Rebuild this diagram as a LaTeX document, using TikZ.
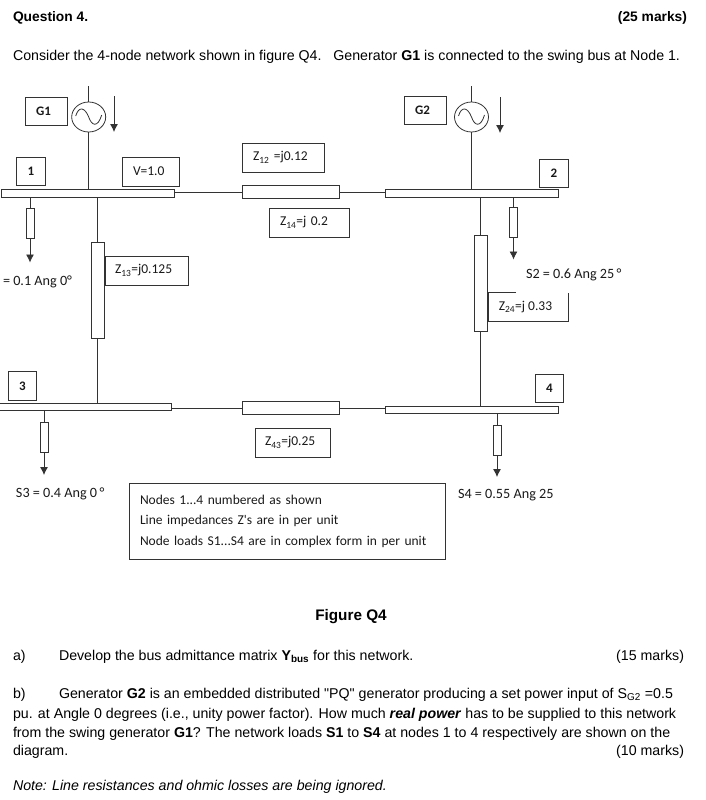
\documentclass[tikz,border=0pt]{standalone}
\usepackage{fontspec}
\setmainfont{Liberation Sans}[Ligatures=TeXOff]
\newfontfamily\diagfont{Carlito}
\usetikzlibrary{positioning,arrows.meta,shapes.geometric}

\tikzset{
  wire/.style={draw=black!80, line width=0.8pt},
  flow/.style={wire, -{Latex[length=8pt,width=8pt]}},
  bus/.style={wire, fill=white, rectangle, inner sep=0pt, outer sep=0pt, minimum height=7.5pt},
  element/.style={wire, fill=white, rectangle, inner sep=0pt, outer sep=0pt},
  load/.style={element, minimum width=8pt, minimum height=30pt},
  gen/.style={wire, ellipse, inner sep=0pt, outer sep=0pt, minimum width=34pt, minimum height=30pt},
  tag/.style={wire, rectangle, inner sep=0pt, outer sep=0pt, align=left, text=black!90, font=\diagfont\fontsize{13.5}{16}\selectfont},
  numtag/.style={tag, align=center, minimum width=28.5pt, minimum height=28.5pt, font=\diagfont\bfseries\fontsize{13}{15}\selectfont},
  lab/.style={inner sep=0pt, outer sep=0pt, text=black!90, font=\diagfont\fontsize{14.2}{16}\selectfont},
  qtext/.style={anchor=base west, inner sep=0pt, outer sep=0pt, font=\fontsize{14.2}{16}\selectfont},
}

\newcommand{\sinewave}[1]{
  \begin{scope}[shift={(#1.center)}]
    \draw[wire] (-13,-1) .. controls (-10,-11) and (-4,-10) .. (0,0) .. controls (3,9) and (9,11) .. (13,-2);
  \end{scope}
}

\begin{document}
\begin{tikzpicture}[x=1pt,y=-1pt]
  \useasboundingbox (0,0) rectangle (705,800);

  \node[qtext, font=\fontsize{13.8}{16}\selectfont] (qhead) at (13,22) {\textbf{Question 4.}};
  \node[qtext, anchor=base east, font=\fontsize{13.8}{16}\selectfont] (qmarks) at (687,22) {\textbf{(25 marks)}};
  \node[qtext] (qintro) at (13,60) {Consider the 4-node network shown in figure Q4.\ \ \ Generator \textbf{G1} is connected to the swing bus at Node 1.};

  \node[bus, minimum width=173pt] (bus1) at (87.5,193.5) {};
  \node[bus, minimum width=173pt] (bus2) at (471.5,193.5) {};
  \node[bus, minimum width=172pt] (bus3) at (85,407) {};
  \node[bus, minimum width=173pt] (bus4) at (471.5,410) {};

  \node[gen] (gen1) at (88.7,117) {};
  \node[gen] (gen2) at (471.5,117) {};
  \sinewave{gen1}
  \sinewave{gen2}
  \coordinate (top1) at (88.7,86);
  \coordinate (top2) at (471.5,86);
  \coordinate (flow1a) at (114,96);
  \coordinate (flow1b) at (114,132);
  \coordinate (flow2a) at (500,97);
  \coordinate (flow2b) at (500,133);
  \draw[wire] (top1) -- (gen1.north);
  \draw[wire] (top2) -- (gen2.north);
  \draw[wire] (gen1.south) -- (gen1.south |- bus1.north);
  \draw[wire] (gen2.south) -- (gen2.south |- bus2.north);
  \draw[flow] (flow1a) -- (flow1b);
  \draw[flow] (flow2a) -- (flow2b);

  \node[numtag, align=left, minimum width=42pt, text width=21pt] (g1tag) at (46.5,111.5) {G1};
  \node[numtag, align=left, minimum width=42.5pt, text width=21pt] (g2tag) at (425.5,110.5) {G2};
  \node[numtag] (n1) at (31,171.5) {1};
  \node[numtag] (n2) at (554,173.5) {2};
  \node[numtag] (n3) at (22.5,386) {3};
  \node[numtag] (n4) at (549.5,388.5) {4};
  \node[tag, minimum width=57pt, minimum height=29pt, text width=35pt] (vtag) at (150.5,171.5) {V=1.0};

  \node[element, minimum width=97pt, minimum height=12.5pt] (z12) at (290.5,192) {};
  \node[element, minimum width=97pt, minimum height=12.5pt] (z43) at (290.5,408) {};
  \node[element, minimum width=13pt, minimum height=96pt] (z13) at (97.5,290) {};
  \node[element, minimum width=13pt, minimum height=96pt] (z24) at (480.5,283) {};

  \draw[wire] (z12.west) -- (z12.west -| bus1.east);
  \draw[wire] (z12.east) -- (z12.east -| bus2.west);
  \draw[wire] (z43.west) -- (z43.west -| bus3.east);
  \draw[wire] (z43.east) -- (z43.east -| bus4.west);
  \draw[wire] (z13.north) -- (z13.north |- bus1.south);
  \draw[wire] (z13.south) -- (z13.south |- bus3.north);
  \draw[wire] (z24.north) -- (z24.north |- bus2.south);
  \draw[wire] (z24.south) -- (z24.south |- bus4.north);

  \node[tag, minimum width=82pt, minimum height=29pt, text width=60pt] (z12tag) at (283,157.5) {Z\textsubscript{12} =j0.12};
  \node[tag, minimum width=80pt, minimum height=29pt, text width=58pt] (z14tag) at (309,222.5) {Z\textsubscript{14}=j 0.2};
  \node[tag, minimum width=83pt, minimum height=29pt, text width=63pt] (z13tag) at (146.5,270.5) {Z\textsubscript{13}=j0.125};
  \node[tag, minimum width=75pt, minimum height=29pt, text width=55pt] (z43tag) at (292.5,442.5) {Z\textsubscript{43}=j0.25};
  \node[lab, font=\diagfont\fontsize{13.5}{16}\selectfont] (z24tag) at (525.5,307) {Z\textsubscript{24}=j 0.33};
  \coordinate (z24a) at (516,292);
  \coordinate (z24b) at (488,292);
  \coordinate (z24c) at (488,321);
  \coordinate (z24d) at (568,321);
  \coordinate (z24e) at (568,293);
  \draw[wire] (z24a) -- (z24b) -- (z24c) -- (z24d) -- (z24e);

  \node[load] (load1) at (30,223.5) {};
  \node[load] (load2) at (513.5,222.5) {};
  \node[load] (load3) at (44,437) {};
  \node[load] (load4) at (497,440) {};
  \coordinate[below=24pt of load1] (tip1);
  \coordinate[below=22pt of load2] (tip2);
  \coordinate[below=23pt of load3] (tip3);
  \coordinate[below=22pt of load4] (tip4);
  \draw[wire] (load1.north) -- (load1.north |- bus1.south);
  \draw[wire] (load2.north) -- (load2.north |- bus2.south);
  \draw[wire] (load3.north) -- (load3.north |- bus3.south);
  \draw[wire] (load4.north) -- (load4.north |- bus4.south);
  \draw[flow] (load1.south) -- (tip1);
  \draw[flow] (load2.south) -- (tip2);
  \draw[flow] (load3.south) -- (tip3);
  \draw[flow] (load4.south) -- (tip4);

  \node[lab, anchor=west] (s1) at (3,281.5) {= 0.1 Ang 0°};
  \node[lab, anchor=west] (s2) at (526,275) {S2 = 0.6 Ang 25\,°};
  \node[lab, anchor=west] (s3) at (16,493.5) {S3 = 0.4 Ang 0\,°};
  \node[lab, anchor=west] (s4) at (458,495) {S4 = 0.55 Ang 25};

  \node[tag, minimum width=316pt, minimum height=76pt, text width=294pt, font=\diagfont\fontsize{13.5}{20.5}\selectfont] (notes) at (287,521) {Nodes 1...4 numbered as shown\\Line impedances Z's are in per unit\\Node loads S1...S4 are in complex form in per unit};

  \node[qtext, anchor=base, font=\fontsize{15.3}{18}\selectfont] (figcap) at (351,620.5) {\textbf{Figure Q4}};
  \node[qtext] (parta) at (13,660) {a)};
  \node[qtext] (partatxt) at (59,660) {Develop the bus admittance matrix \textbf{Y\textsubscript{bus}} for this network.};
  \node[qtext, anchor=base east] (amarks) at (684,660) {(15 marks)};
  \node[qtext] (partb) at (13,698) {b)};
  \node[qtext] (partbl1) at (59,698) {Generator \textbf{G2} is an embedded distributed "PQ" generator producing a set power input of S\textsubscript{G2} =0.5};
  \node[qtext] (partbl2) at (13,718) {pu. at Angle 0 degrees (i.e., unity power factor). How much \textbf{\textit{real power}} has to be supplied to this network};
  \node[qtext] (partbl3) at (13,737) {from the swing generator \textbf{G1}? The network loads \textbf{S1} to \textbf{S4} at nodes 1 to 4 respectively are shown on the};
  \node[qtext] (partbl4) at (13,755) {diagram.};
  \node[qtext, anchor=base east] (bmarks) at (684,755) {(10 marks)};
  \node[qtext] (note) at (13,790) {\textit{Note: Line resistances and ohmic losses are being ignored.}};
\end{tikzpicture}
\end{document}
